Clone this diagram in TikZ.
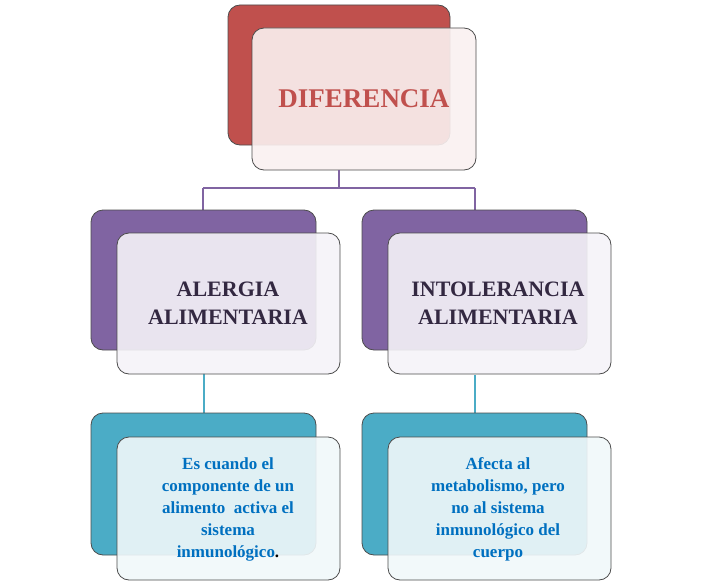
\documentclass[tikz,border=0pt]{standalone}
\usepackage{fontspec}
\setmainfont{Liberation Serif}
\begin{document}
\begin{tikzpicture}[x=1pt,y=-1pt,
  back/.style={draw=black!70,line width=0.8pt,rounded corners=12pt},
  front/.style={draw=black!70,line width=0.8pt,rounded corners=12pt,fill opacity=0.9,text opacity=1},
  lbl/.style={font=\bfseries,align=center}]
\useasboundingbox (0,0) rectangle (701,583);
\definecolor{rd}{HTML}{C0504D}\definecolor{pu}{HTML}{8064A2}\definecolor{tl}{HTML}{4BACC6}
% top
\draw[back,fill=rd] (228,5) rectangle (450,145);
\draw[front,fill=rd!8] (252,28) rectangle (476,170);
\node[lbl,text=rd,font=\bfseries\fontsize{27}{30}\selectfont] (top) at (364,99) {DIFERENCIA};
\coordinate (tb) at (339,170);
% connectors
\coordinate (hl) at (203,188);\coordinate (hr) at (475,188);
\draw[pu,line width=1.5pt] (tb) -- (339,188) (hl) -- (hr) (hl) -- (203,210) (hr) -- (475,210);
\draw[tl,line width=1.5pt] (204,373) -- (204,413) (475,375) -- (475,413);
% level 2
\foreach \x in {0,271}{
 \draw[back,fill=pu] (91+\x,210) rectangle (316+\x,350);
 \draw[front,fill=pu!8] (117+\x,233) rectangle (340+\x,374);
 \draw[back,fill=tl] (91+\x,413) rectangle (316+\x,555);
 \draw[front,fill=tl!8] (117+\x,437) rectangle (340+\x,580);
}
\node[lbl,text=pu!40!black,font=\bfseries\fontsize{22}{28}\selectfont] (a) at (228,303) {ALERGIA\\ALIMENTARIA};
\node[lbl,text=pu!40!black,font=\bfseries\fontsize{22}{28}\selectfont] (b) at (498,303) {INTOLERANCIA\\ALIMENTARIA};
\node[lbl,text={rgb,255:red,0;green,112;blue,192},font=\bfseries\fontsize{17}{22}\selectfont] (c) at (228,509) {Es cuando el\\componente de un\\alimento\ \ activa el\\sistema\\inmunológico\textcolor{black}{.}};
\node[lbl,text={rgb,255:red,0;green,112;blue,192},font=\bfseries\fontsize{17}{22}\selectfont] (d) at (498,509) {Afecta al\\metabolismo, pero\\no al sistema\\inmunológico del\\cuerpo};
\end{tikzpicture}
\end{document}
